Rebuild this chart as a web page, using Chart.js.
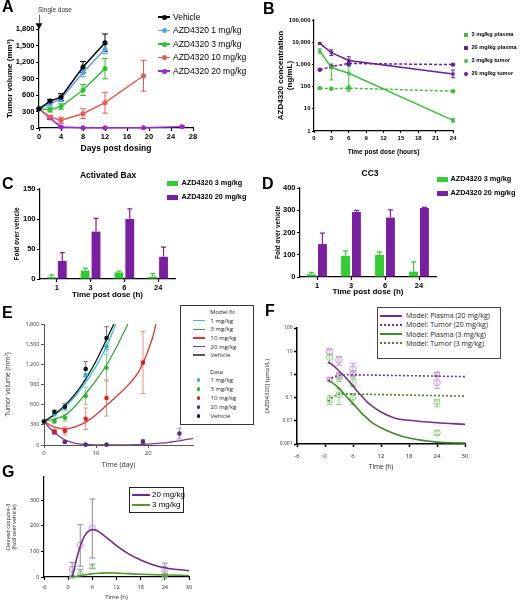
<!DOCTYPE html>
<html>
<head>
<meta charset="utf-8">
<title>AZD4320 figure</title>
<script src="https://cdn.jsdelivr.net/npm/chart.js@4.4.1/dist/chart.umd.min.js"></script>
<style>
  html, body { margin: 0; padding: 0; background: #fff; }
  #fig { position: relative; width: 520px; height: 601px; overflow: hidden; font-family: "Liberation Sans", Arial, sans-serif; color: #000; }
  .pane { position: absolute; }
  .t { position: absolute; white-space: nowrap; line-height: 1; }
  .letter { font-size: 16px; font-weight: bold; }
  .box { position: absolute; border: 1px solid #333; box-sizing: border-box; background: #fff; }
  .sw { position: absolute; box-sizing: border-box; }
</style>
</head>
<body>
<div id="fig">
  <div class="pane" style="left:0;top:0;width:260px;height:158px"><canvas id="cA"></canvas></div>
  <div class="pane" style="left:260px;top:0;width:260px;height:160px"><canvas id="cB"></canvas></div>
  <div class="pane" style="left:0;top:180px;width:260px;height:120px"><canvas id="cC"></canvas></div>
  <div class="pane" style="left:260px;top:180px;width:260px;height:117px"><canvas id="cD"></canvas></div>
  <div class="pane" style="left:0;top:305px;width:260px;height:165px"><canvas id="cE"></canvas></div>
  <div class="pane" style="left:260px;top:305px;width:260px;height:166px"><canvas id="cF"></canvas></div>
  <div class="pane" style="left:0;top:472px;width:260px;height:129px"><canvas id="cG"></canvas></div>

  <div class="t letter" style="left:2px;top:-1px">A</div>
  <div class="t letter" style="left:263px;top:1px">B</div>
  <div class="t letter" style="left:2px;top:176px">C</div>
  <div class="t letter" style="left:262px;top:176px">D</div>
  <div class="t letter" style="left:2px;top:305px">E</div>
  <div class="t letter" style="left:265px;top:303px">F</div>
  <div class="t letter" style="left:2px;top:464px">G</div>
</div>
<script>
// ---- A: tumour volume after a single dose ----
const aDays = [0, 2, 4, 8, 12];
const aVehicle = [350, 490, 560, 1110, 1550];
const aVehicleErr = [15, 30, 65, 100, 160];
const a1mg = [350, 440, 530, 1010, 1430];
const a1mgErr = [15, 40, 50, 80, 80];
const a3mg = [350, 330, 390, 690, 1080];
const a3mgErr = [15, 40, 50, 100, 185];
const a10Days = [0, 2, 4, 8, 12, 19];
const a10mg = [350, 200, 140, 260, 460, 950];
const a10mgErr = [15, 30, 55, 90, 190, 280];
const a20Days = [0, 2, 4, 8, 12, 19, 26];
const a20mg = [350, 180, 20, 4, 4, 5, 25];
const a20mgErr = [15, 25, 10, 3, 3, 4, 10];
const aXTicks = [0, 4, 8, 12, 16, 20, 24, 28];
const aYTicks = [0, 300, 600, 900, 1200, 1500, 1800];
const doseDay = [0];
const doseMarkY = [1870];
const aLabels = ["Vehicle", "AZD4320 1 mg/kg", "AZD4320 3 mg/kg", "AZD4320 10 mg/kg", "AZD4320 20 mg/kg"];

// ---- B: PK, ng/mL ----
const bTimes = [1, 3, 6, 24];
const b3Plasma = [4000, 720, 400, 3];
const b3PlasmaLo = [3200, 200, 75, 2.5];
const b3PlasmaHi = [5000, 1050, 800, 3.7];
const b20Plasma = [8800, 3400, 1500, 370];
const b20PlasmaLo = [8000, 2500, 1000, 250];
const b20PlasmaHi = [9600, 4500, 2200, 560];
const b3Tumor = [85, 80, 85, 62];
const b3TumorLo = [80, 76, 62, 58];
const b3TumorHi = [90, 84, 110, 66];
const b20Tumor = [570, 800, 1100, 980];
const b20TumorLo = [540, 700, 900, 920];
const b20TumorHi = [600, 900, 1300, 1040];
const bXTicks = [0, 3, 6, 9, 12, 15, 18, 21, 24];
const bYTicks = [1, 10, 100, 1000, 10000, 100000];
const bLabels = ["3 mg/kg plasma", "20 mg/kg plasma", "3 mg/kg tumor", "20 mg/kg tumor"];

// ---- C / D: fold over vehicle ----
const doseTimes = ["1", "3", "6", "24"];
const c3mg = [3, 14, 11, 4];
const c3mgErr = [4, 4, 2, 5];
const c20mg = [30, 79, 100, 37];
const c20mgErr = [14, 22, 17, 16];
const cYTicks = [0, 50, 100, 150];
const d3mg = [12, 95, 99, 24];
const d3mgErr = [9, 22, 14, 44];
const d20mg = [148, 292, 267, 310];
const d20mgErr = [49, 7, 35, 3];
const dYTicks = [0, 100, 200, 300, 400];
const barLabels = ["AZD4320 3 mg/kg", "AZD4320 20 mg/kg"];

// ---- E: model fit vs data ----
const eDays = [0, 2, 4, 8, 12];
const eVehicle = [350, 490, 570, 1130, 1590];
const eVehicleErr = [0, 30, 50, 110, 170];
const e1mg = [350, 460, 560, 1040, 1465];
const e1mgErr = [0, 30, 50, 80, 80];
const e3mg = [350, 355, 405, 730, 1150];
const e3mgErr = [0, 30, 50, 130, 200];
const e10Days = [0, 2, 4, 8, 12, 19];
const e10mg = [350, 200, 210, 390, 700, 1225];
const e10mgErr = [0, 30, 60, 160, 270, 460];
const e20Days = [0, 2, 4, 8, 12, 19, 26];
const e20mg = [350, 190, 45, 5, 5, 50, 170];
const e20mgErr = [0, 30, 15, 5, 5, 30, 80];
const eFitVehX = [0, 2, 4, 6, 8, 10, 12, 13.4];
const eFitVehY = [350, 455, 590, 760, 980, 1250, 1570, 1800];
const eFit1X = [0, 2, 4, 6, 8, 10, 12, 13.8];
const eFit1Y = [350, 445, 565, 725, 930, 1170, 1465, 1800];
const eFit3X = [0, 2, 4, 6, 8, 10, 12, 14, 16.1];
const eFit3Y = [350, 385, 440, 580, 765, 960, 1190, 1470, 1800];
const eFit10X = [0, 2, 4, 6, 8, 10, 12, 14, 16, 18, 19, 20, 21, 21.5];
const eFit10Y = [350, 265, 240, 270, 340, 450, 590, 730, 880, 1070, 1220, 1410, 1640, 1800];
const eFit20X = [0, 1, 2, 3, 4, 6, 8, 10, 14, 18, 20, 22, 24, 26, 28.6];
const eFit20Y = [350, 260, 190, 125, 75, 25, 8, 2, 0, 5, 12, 25, 40, 60, 100];
const eXTicks = [0, 10, 20];
const eFitLabels = ["1 mg/kg", "3 mg/kg", "10 mg/kg", "20 mg/kg", "Vehicle"];

// ---- F: PK model, umol/L ----
const fTimes = [1, 3, 6, 24];
const fPlasma20 = [10, 4.2, 1.7, 0.45];
const fPlasma20Lo = [7, 2.5, 0.9, 0.25];
const fPlasma20Hi = [12, 6, 3, 0.9];
const fTumor20 = [0.6, 0.9, 1.1, 1.0];
const fTumor20Lo = [0.5, 0.7, 0.8, 0.8];
const fTumor20Hi = [0.7, 1.1, 1.4, 1.2];
const fPlasma3 = [5.5, 0.8, 0.45, 0.003];
const fPlasma3Lo = [3, 0.5, 0.3, 0.0025];
const fPlasma3Hi = [7, 1.2, 0.7, 0.0037];
const fTumor3 = [0.08, 0.13, 0.1, 0.065];
const fTumor3Lo = [0.05, 0.05, 0.05, 0.04];
const fTumor3Hi = [0.12, 0.25, 0.15, 0.08];
const fModelX = [0.7, 2, 3, 4, 5, 6, 7, 8, 9, 10, 12, 15, 18, 24, 30];
const fModelPlasma20 = [3.5, 2.2, 1.4, 0.9, 0.55, 0.32, 0.18, 0.11, 0.065, 0.045, 0.024, 0.013, 0.0105, 0.0082, 0.007];
const fModelPlasma3 = [0.55, 0.38, 0.25, 0.15, 0.09, 0.055, 0.033, 0.02, 0.013, 0.0085, 0.005, 0.0027, 0.0018, 0.0012, 0.0011];
const fTumorX = [0.7, 1.5, 2.5, 3.5, 5, 8, 12, 18, 24, 30];
const fModelTumor20 = [0.53, 0.7, 0.85, 0.93, 0.96, 0.95, 0.92, 0.88, 0.84, 0.8];
const fModelTumor3 = [0.07, 0.1, 0.13, 0.145, 0.145, 0.14, 0.135, 0.128, 0.122, 0.115];
const hourTicks = [-6, 0, 6, 12, 18, 24, 30];
const fYTicks = [0.001, 0.01, 0.1, 1, 10, 100];
const fLabels = ["Model: Plasma (20 mg/kg)", "Model: Tumor (20 mg/kg)", "Model: Plasma (3 mg/kg)", "Model: Tumor (3 mg/kg)"];

// ---- G: cleaved caspase-3 ----
const g20 = [30, 125, 190, 30];
const g20Lo = [5, 42, 74, 14];
const g20Hi = [56, 204, 304, 54];
const g3 = [2, 18, 40, 3];
const g3Lo = [0, 6, 32, 0];
const g3Hi = [5, 30, 50, 8];
const gFit20X = [1, 1.5, 2, 3, 4, 5, 6, 7, 8, 10, 12, 15, 18, 21, 24, 27, 30];
const gFit20Y = [0, 30, 65, 120, 158, 178, 185, 182, 172, 148, 122, 90, 66, 48, 36, 29, 25];
const gFit3X = [1, 2, 3, 4, 6, 8, 10, 12, 15, 18, 24, 30];
const gFit3Y = [0, 2, 5, 8, 13, 15, 16, 15, 13, 11, 8, 6];
const gYTicks = [0, 100, 200, 300];
const gLabels = ["20 mg/kg", "3 mg/kg"];

// colours
const aColors = ["#000000", "#5aa2e6", "#2fc12f", "#ea5a50", "#9c27d6"];
const bGreen = "#3dbf3d", bPurple = "#6a1d9a";
const barGreen = "#33cc33", barPurple = "#7b1fa2";
const eFitColors = ["#38c3cf", "#35a83a", "#e2322b", "#7d3a97", "#555555"];
const eDotColors = ["#27b8c4", "#2fb52f", "#e02020", "#5e2a80", "#111111"];
const eErrColors = ["#86d8de", "#86cf86", "#ee8a86", "#a98bc0", "#777777"];
const fPurple = "#7b2d8e", fGreen = "#3d8b27", fPurpleLt = "#c29ad4", fGreenLt = "#8fcf7f";
const gPurple = "#6f2a96", gGreen = "#4f9a2a";
const OPEN = '"Open Sans", sans-serif';

Chart.defaults.font.family = '"Liberation Sans", Arial, sans-serif';
Chart.defaults.animation = false;
Chart.defaults.responsive = true;
Chart.defaults.maintainAspectRatio = false;
Chart.defaults.plugins.legend.display = false;
Chart.defaults.plugins.tooltip.enabled = false;

// vertical error bars, drawn from errLo / errHi on each dataset
Chart.register({
  id: "errorBars",
  beforeDatasetsDraw(chart) {
    const ctx = chart.ctx;
    chart.data.datasets.forEach((ds, i) => {
      if (!ds.errHi) return;
      const meta = chart.getDatasetMeta(i);
      const ys = chart.scales[meta.yAxisID];
      const cap = ds.errCap == null ? 3 : ds.errCap;
      ctx.save();
      ctx.strokeStyle = ds.errColor || ds.borderColor;
      ctx.lineWidth = ds.errWidth || 1;
      meta.data.forEach((el, j) => {
        const lo = ds.errLo[j], hi = ds.errHi[j];
        if (lo == null || hi == null || lo === hi) return;
        const y1 = ys.getPixelForValue(lo), y2 = ys.getPixelForValue(hi);
        ctx.beginPath();
        ctx.moveTo(el.x, y1); ctx.lineTo(el.x, y2);
        ctx.moveTo(el.x - cap, y2); ctx.lineTo(el.x + cap, y2);
        if (!ds.oneSided) { ctx.moveTo(el.x - cap, y1); ctx.lineTo(el.x + cap, y1); }
        ctx.stroke();
      });
      ctx.restore();
    });
  }
});

function pts(xs, ys) { return xs.map((x, i) => ({ x: x, y: ys[i] })); }
function plus(vals, err) { return vals.map((v, i) => v + err[i]); }
function minus(vals, err) { return vals.map((v, i) => v - err[i]); }
const comma = v => v.toLocaleString("en-US");

// axis with a fixed thickness so the plot box lands where the reference has it
function axis(o) {
  const col = o.color || "#000";
  const lw = o.lw || 1.2;
  const s = {
    type: o.type || "linear",
    min: o.min, max: o.max,
    offset: !!o.offset,
    afterFit: sc => { if (sc.isHorizontal()) sc.height = o.size; else sc.width = o.size; },
    border: { color: col, width: lw },
    grid: { offset: false, drawOnChartArea: false, tickLength: o.tl || 3, tickColor: col, tickWidth: lw },
    ticks: { font: o.font, color: o.tcolor || col, padding: o.pad == null ? 1.5 : o.pad, autoSkip: false, maxRotation: 0 },
    title: { display: !!o.title, text: o.title, font: o.tfont, color: o.tcolor || col, padding: o.tpad || 0 }
  };
  if (o.ticksAt) s.afterBuildTicks = sc => { sc.ticks = o.ticksAt.map(v => ({ value: v })); };
  if (o.cb) s.ticks.callback = o.cb;
  return s;
}

function lineDs(xs, ys, color, extra) {
  return Object.assign({
    data: pts(xs, ys), borderColor: color, backgroundColor: color,
    borderWidth: 1.5, pointRadius: 2.5, pointBorderWidth: 0, clip: false, tension: 0
  }, extra || {});
}

function barDs(vals, err, color) {
  return {
    data: vals, backgroundColor: color, borderWidth: 0,
    categoryPercentage: 0.64, barPercentage: 0.82,
    errLo: vals, errHi: plus(vals, err), errColor: color, errCap: 2.5, errWidth: 1.2, oneSided: true
  };
}

// ---------- A ----------
new Chart(document.getElementById("cA"), {
  type: "line",
  data: {
    datasets: [
      lineDs(aDays, aVehicle, aColors[0], { errLo: minus(aVehicle, aVehicleErr), errHi: plus(aVehicle, aVehicleErr) }),
      lineDs(aDays, a1mg, aColors[1], { errLo: minus(a1mg, a1mgErr), errHi: plus(a1mg, a1mgErr) }),
      lineDs(aDays, a3mg, aColors[2], { errLo: minus(a3mg, a3mgErr), errHi: plus(a3mg, a3mgErr) }),
      lineDs(a10Days, a10mg, aColors[3], { errLo: minus(a10mg, a10mgErr), errHi: plus(a10mg, a10mgErr) }),
      lineDs(a20Days, a20mg, aColors[4], { errLo: minus(a20mg, a20mgErr), errHi: plus(a20mg, a20mgErr) }),
      lineDs(doseDay, doseMarkY, "#000", { showLine: false, pointStyle: "triangle", rotation: 180, pointRadius: 4 })
    ]
  },
  options: {
    layout: { padding: { top: 29, right: 67 } },
    scales: {
      x: axis({ size: 30, min: 0, max: 28, ticksAt: aXTicks, font: { size: 7.5, weight: "bold" },
        title: "Days post dosing", tfont: { size: 8.5, weight: "bold" }, tpad: 4 }),
      y: axis({ size: 39, min: 0, max: 1800, ticksAt: aYTicks, cb: comma, font: { size: 7.5, weight: "bold" },
        title: "Tumor volume (mm³)", tfont: { size: 8, weight: "bold" }, tpad: 4.5 })
    }
  }
});

// ---------- B ----------
function bDs(ys, lo, hi, color, style, dash) {
  return lineDs(bTimes, ys, color, { pointStyle: style, pointRadius: 2.2, borderDash: dash, errLo: lo, errHi: hi, errCap: 2 });
}
new Chart(document.getElementById("cB"), {
  type: "line",
  data: {
    datasets: [
      bDs(b3Plasma, b3PlasmaLo, b3PlasmaHi, bGreen, "rect", []),
      bDs(b20Plasma, b20PlasmaLo, b20PlasmaHi, bPurple, "rect", []),
      bDs(b3Tumor, b3TumorLo, b3TumorHi, bGreen, "circle", [3, 2]),
      bDs(b20Tumor, b20TumorLo, b20TumorHi, bPurple, "circle", [3, 2])
    ]
  },
  options: {
    layout: { padding: { top: 20, right: 67 } },
    scales: {
      x: axis({ size: 29, min: 0, max: 24, ticksAt: bXTicks, font: { size: 6, weight: "bold" }, tl: 2,
        title: "Time post dose (hours)", tfont: { size: 6.5, weight: "bold" }, tpad: 4 }),
      y: axis({ type: "logarithmic", size: 54, min: 1, max: 100000, ticksAt: bYTicks, cb: comma, tl: 2,
        font: { size: 6, weight: "bold" },
        title: ["AZD4320 concentration", "(ng/mL)"], tfont: { size: 8, weight: "bold" }, tpad: 15.5 })
    }
  }
});

// ---------- C ----------
new Chart(document.getElementById("cC"), {
  type: "bar",
  data: { labels: doseTimes, datasets: [barDs(c3mg, c3mgErr, barGreen), barDs(c20mg, c20mgErr, barPurple)] },
  options: {
    layout: { padding: { top: 9, right: 85 } },
    scales: {
      x: axis({ type: "category", offset: true, size: 21, font: { size: 7.5, weight: "bold" },
        title: "Time post dose (h)", tfont: { size: 8, weight: "bold" } }),
      y: axis({ size: 40, min: 0, max: 150, ticksAt: cYTicks, font: { size: 7.5, weight: "bold" },
        title: "Fold over vehicle", tfont: { size: 6.5, weight: "bold" }, tpad: 13 })
    }
  }
});

// ---------- D ----------
new Chart(document.getElementById("cD"), {
  type: "bar",
  data: { labels: doseTimes, datasets: [barDs(d3mg, d3mgErr, barGreen), barDs(d20mg, d20mgErr, barPurple)] },
  options: {
    layout: { padding: { top: 8, right: 84 } },
    scales: {
      x: axis({ type: "category", offset: true, size: 20, font: { size: 7.5, weight: "bold" },
        title: "Time post dose (h)", tfont: { size: 8, weight: "bold" } }),
      y: axis({ size: 40, min: 0, max: 400, ticksAt: dYTicks, font: { size: 7.5, weight: "bold" },
        title: "Fold over vehicle", tfont: { size: 6.5, weight: "bold" }, tpad: 14 })
    }
  }
});

// ---------- E ----------
function fitDs(xs, ys, color) {
  return lineDs(xs, ys, color, { pointRadius: 0, borderWidth: 1.3, cubicInterpolationMode: "monotone", clip: 0 });
}
function dotDs(xs, ys, err, k) {
  return lineDs(xs, ys, eDotColors[k], { showLine: false, pointRadius: 2.3,
    errLo: minus(ys, err), errHi: plus(ys, err), errColor: eErrColors[k], errCap: 2.5 });
}
new Chart(document.getElementById("cE"), {
  type: "line",
  data: {
    datasets: [
      dotDs(eDays, eVehicle, eVehicleErr, 4),
      dotDs(eDays, e1mg, e1mgErr, 0),
      dotDs(eDays, e3mg, e3mgErr, 1),
      dotDs(e10Days, e10mg, e10mgErr, 2),
      dotDs(e20Days, e20mg, e20mgErr, 3),
      fitDs(eFitVehX, eFitVehY, "#111"),
      fitDs(eFit1X, eFit1Y, eFitColors[0]),
      fitDs(eFit3X, eFit3Y, eFitColors[1]),
      fitDs(eFit10X, eFit10Y, eFitColors[2]),
      fitDs(eFit20X, eFit20Y, eFitColors[3])
    ]
  },
  options: {
    layout: { padding: { top: 19, right: 67 } },
    scales: {
      x: axis({ size: 25, min: 0, max: 28.6, ticksAt: eXTicks, color: "#555", lw: 1, tcolor: "#333",
        font: { family: OPEN, size: 6 }, title: "Time (day)", tfont: { family: OPEN, size: 7 }, tpad: 1 }),
      y: axis({ size: 44, min: 0, max: 1800, ticksAt: aYTicks, cb: comma, color: "#555", lw: 1, tcolor: "#333",
        font: { family: OPEN, size: 5.5 }, title: "Tumor volume (mm³)", tfont: { family: OPEN, size: 6.5 }, tpad: 4 })
    }
  }
});

// ---------- F ----------
function modelDs(xs, ys, color, dash) {
  return lineDs(xs, ys, color, { pointRadius: 0, borderWidth: 1.6, borderDash: dash, cubicInterpolationMode: "monotone", clip: 0 });
}
function openDs(ys, lo, hi, color, style) {
  return lineDs(fTimes, ys, color, { showLine: false, pointStyle: style, pointRadius: 3.3,
    pointBackgroundColor: "rgba(0,0,0,0)", pointBorderColor: color, pointBorderWidth: 1,
    errLo: lo, errHi: hi, errColor: color, errCap: 3 });
}
new Chart(document.getElementById("cF"), {
  type: "line",
  data: {
    datasets: [
      modelDs(fModelX, fModelPlasma20, fPurple, []),
      modelDs(fTumorX, fModelTumor20, fPurple, [2, 2]),
      modelDs(fModelX, fModelPlasma3, fGreen, []),
      modelDs(fTumorX, fModelTumor3, fGreen, [2, 2]),
      openDs(fPlasma20, fPlasma20Lo, fPlasma20Hi, fPurpleLt, "circle"),
      openDs(fTumor20, fTumor20Lo, fTumor20Hi, fPurpleLt, "rect"),
      openDs(fPlasma3, fPlasma3Lo, fPlasma3Hi, fGreenLt, "circle"),
      openDs(fTumor3, fTumor3Lo, fTumor3Hi, fGreenLt, "rect")
    ]
  },
  options: {
    layout: { padding: { top: 23, right: 55 } },
    scales: {
      x: axis({ size: 27, min: -6, max: 30, ticksAt: hourTicks, lw: 1.5, tcolor: "#222", pad: 6,
        font: { family: OPEN, size: 6 }, title: "Time (h)", tfont: { family: OPEN, size: 6.5 } }),
      y: axis({ type: "logarithmic", size: 37, min: 0.001, max: 100, ticksAt: fYTicks, cb: v => String(v),
        lw: 1.5, tcolor: "#222", font: { family: OPEN, size: 5 },
        title: "[AZD4320] (µmol/L)", tfont: { family: OPEN, size: 6 }, tpad: 3.4 })
    }
  }
});

// ---------- G ----------
new Chart(document.getElementById("cG"), {
  type: "line",
  data: {
    datasets: [
      modelDs(gFit20X, gFit20Y, gPurple, []),
      modelDs(gFit3X, gFit3Y, gGreen, []),
      lineDs(fTimes, g20, "#b992d0", { showLine: false, pointRadius: 3, pointBackgroundColor: "rgba(0,0,0,0)",
        pointBorderColor: "#b992d0", pointBorderWidth: 1, errLo: g20Lo, errHi: g20Hi, errColor: "#8d8d8d", errCap: 3 }),
      lineDs(fTimes, g3, "#8ccc84", { showLine: false, pointStyle: "triangle", pointRadius: 3.5, pointBackgroundColor: "rgba(0,0,0,0)",
        pointBorderColor: "#8ccc84", pointBorderWidth: 1, errLo: g3Lo, errHi: g3Hi, errColor: "#8d8d8d", errCap: 3 })
    ]
  },
  options: {
    layout: { padding: { top: 4, right: 71 } },
    scales: {
      x: axis({ size: 24, min: -6, max: 30, ticksAt: hourTicks, tcolor: "#222", pad: 4,
        font: { family: OPEN, size: 5.5 }, title: "Time (h)", tfont: { family: OPEN, size: 6 } }),
      y: axis({ size: 44, min: 0, max: 390, ticksAt: gYTicks, tcolor: "#222",
        font: { family: OPEN, size: 5.5 },
        title: ["Cleaved caspase-3", "(fold over vehicle)"], tfont: { family: OPEN, size: 5.5 }, tpad: 4.7 })
    }
  }
});

// ---------- text, legends ----------
const fig = document.getElementById("fig");
function tx(x, y, str, size, css) {
  const d = document.createElement("div");
  d.className = "t";
  d.textContent = str;
  d.style.cssText = `left:${x}px;top:${y - size / 2}px;font-size:${size}px;` + (css || "");
  fig.appendChild(d);
  return d;
}
function sw(x, y, w, h, css) {
  const d = document.createElement("div");
  d.className = "sw";
  d.style.cssText = `left:${x}px;top:${y - h / 2}px;width:${w}px;height:${h}px;` + (css || "");
  fig.appendChild(d);
  return d;
}
function frame(x, y, w, h, col) {
  const d = document.createElement("div");
  d.className = "box";
  d.style.cssText = `left:${x}px;top:${y}px;width:${w}px;height:${h}px;border-color:${col};`;
  fig.appendChild(d);
}

// A
tx(38, 10, "Single dose", 6.5, "color:#333");
sw(38.6, 19, 0.8, 8, "background:#666");
aLabels.forEach((lab, i) => {
  const y = 17 + i * 13.5;
  sw(158, y, 12, 1.5, `background:${aColors[i]}`);
  sw(161.5, y, 5, 5, `background:${aColors[i]};border-radius:50%`);
  tx(173, y, lab, 8.5);
});

// B
const bColors = [bGreen, bPurple, bGreen, bPurple];
bLabels.forEach((lab, i) => {
  const y = 35 + i * 13;
  sw(463.5, y, 4, 4, `background:${bColors[i]};` + (i > 1 ? "border-radius:50%" : ""));
  tx(471.5, y, lab, 5.6, "font-weight:bold");
});

// C, D
tx(108, 175, "Activated Bax", 8.5, "font-weight:bold;transform:translateX(-50%)");
tx(370, 173.5, "CC3", 8.5, "font-weight:bold;transform:translateX(-50%)");
const barColors = [barGreen, barPurple];
barLabels.forEach((lab, i) => {
  sw(167, 183 + i * 14, 11, 5, `background:${barColors[i]}`);
  tx(181.5, 183 + i * 14, lab, 7.3, "font-weight:bold");
  sw(437, 179 + i * 14, 11, 5, `background:${barColors[i]}`);
  tx(450.5, 179 + i * 14, lab, 7.3, "font-weight:bold");
});

// E
frame(180, 305, 74, 120, "#333");
const oc = `font-family:${OPEN};color:#222`;
tx(210, 312, "Model fit", 6, oc);
eFitLabels.forEach((lab, i) => {
  const y = 320.7 + i * 8.6;
  sw(192.5, y, 12.5, 1.3, `background:${eFitColors[i]}`);
  tx(210.5, y, lab, 6, oc);
});
tx(210, 371.7, "Data", 6, oc);
eFitLabels.forEach((lab, i) => {
  const y = 380 + i * 9;
  sw(196.5, y, 3.6, 3.6, `background:${eDotColors[i]};border-radius:50%`);
  tx(210.5, y, lab, 6, oc);
});

// F
frame(377, 307, 124, 52, "#444");
const fColors = [fPurple, fPurple, fGreen, fGreen];
fLabels.forEach((lab, i) => {
  const y = 315.7 + i * 9.2;
  sw(380, y, 22, 2, i % 2 ? `border-top:2px dotted ${fColors[i]}` : `background:${fColors[i]}`);
  tx(406, y, lab, 7, oc);
});

// G
frame(129, 487, 55, 26, "#222");
const gColors = [gPurple, gGreen];
gLabels.forEach((lab, i) => {
  const y = 495 + i * 9.5;
  sw(132, y, 18, 2, `background:${gColors[i]}`);
  tx(152, y, lab, 8);
});
</script>
</body>
</html>
